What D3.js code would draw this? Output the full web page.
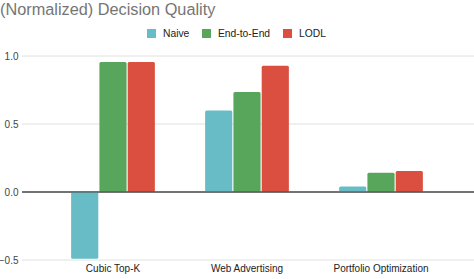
<!DOCTYPE html>
<html>
<head>
<meta charset="utf-8">
<script src="https://cdn.jsdelivr.net/npm/d3@7"></script>
<style>
  body{margin:0;background:#fff;}
  text{font-family:"Liberation Sans",Arial,sans-serif;}
</style>
</head>
<body>
<div class="box"></div>
<script>
const categories=['Cubic Top-K','Web Advertising','Portfolio Optimization'];
const series=['Naive','End-to-End','LODL'];
const naive=[-0.49,0.60,0.04];
const endToEnd=[0.955,0.735,0.142];
const lodl=[0.955,0.928,0.154];
const yTicks=[-0.5,0,0.5,1.0];
const couleurs=['#67bcc6','#58a65c','#da4f3f'];

const dims={width:474,height:279};
const svg=d3.select('.box')
    .append('svg')
    .attr('width',dims.width)
    .attr('height',dims.height);

const valeurs=[naive,endToEnd,lodl];
const donnees=categories.map((c,i)=>({cat:c,vals:series.map((s,j)=>({serie:s,v:valeurs[j][i]}))}));

const y=d3.scaleLinear().domain([-0.5,1.0]).range([260,56]);
const x=d3.scaleBand().domain(categories).range([46,448]).paddingInner(0).paddingOuter(0);
const x1=d3.scaleBand().domain(series).range([24,110]).padding(0.04);
const couleur=d3.scaleOrdinal().domain(series).range(couleurs);

// title
svg.append('text')
    .attr('x',0).attr('y',14.5)
    .attr('font-size',16.3)
    .attr('fill','#757575')
    .text('(Normalized) Decision Quality');

// grid
const grille=svg.append('g');
grille.selectAll('line')
    .data(yTicks)
    .enter().append('line')
    .attr('x1',22).attr('x2',474)
    .attr('y1',d=>y(d)).attr('y2',d=>y(d))
    .attr('stroke',d=>d===0?'#444':'#e0e0e0')
    .attr('stroke-width',1);
grille.selectAll('text')
    .data(yTicks)
    .enter().append('text')
    .attr('x',18.5).attr('y',d=>y(d)+3.5)
    .attr('text-anchor','end')
    .attr('font-size',10)
    .attr('fill','#444')
    .text(d=>d3.format('.1f')(d));

// bars
const groupes=svg.selectAll('g.cat')
    .data(donnees)
    .enter().append('g')
    .attr('class','cat')
    .attr('transform',d=>`translate(${x(d.cat)},0)`);
groupes.selectAll('rect')
    .data(d=>d.vals)
    .enter().append('rect')
    .attr('x',d=>x1(d.serie))
    .attr('width',x1.bandwidth())
    .attr('y',d=>Math.min(y(d.v),y(0)))
    .attr('height',d=>Math.abs(y(d.v)-y(0)))
    .attr('rx',1.5)
    .attr('fill',d=>couleur(d.serie));

svg.append('line')
    .attr('x1',22).attr('x2',474)
    .attr('y1',y(0)).attr('y2',y(0))
    .attr('stroke','#444');

// category labels
svg.selectAll('text.cat')
    .data(categories)
    .enter().append('text')
    .attr('class','cat')
    .attr('x',d=>x(d)+x.bandwidth()/2)
    .attr('y',272)
    .attr('text-anchor','middle')
    .attr('font-size',10)
    .attr('fill','#222')
    .text(d=>d);

// legend
const legendX=[147,202,283];
const legende=svg.selectAll('g.leg')
    .data(series)
    .enter().append('g')
    .attr('class','leg')
    .attr('transform',(d,i)=>`translate(${legendX[i]},29)`);
legende.append('rect')
    .attr('width',9).attr('height',9)
    .attr('fill',d=>couleur(d));
legende.append('text')
    .attr('x',16).attr('y',8.3)
    .attr('font-size',10.3)
    .attr('fill','#222')
    .text(d=>d);
</script>
</body>
</html>
